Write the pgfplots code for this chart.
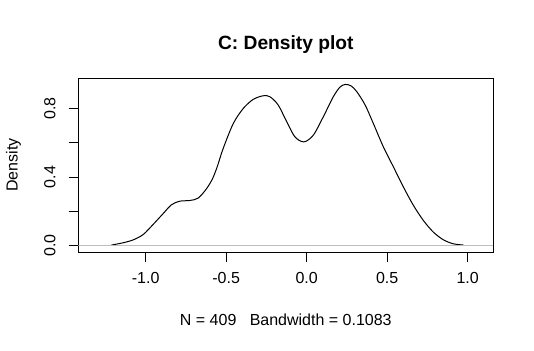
\documentclass[border=0pt]{standalone}
\usepackage{fontspec}
\setmainfont{Liberation Sans}
\usepackage{pgfplots}
\pgfplotsset{compat=1.18}
\definecolor{rgray}{HTML}{BEBEBE}
\begin{document}
\begin{tikzpicture}
\useasboundingbox (0,0) rectangle (400.5pt,262.5pt);
\begin{axis}[
  at={(58.725pt,73.5pt)}, anchor=south west,
  width=311.25pt, height=130.5pt, scale only axis,
  xmin=-1.4186, xmax=1.159, ymin=-0.0376, ymax=0.9776,
  axis line style={line width=0.75pt},
  tick style={black, line width=0.75pt},
  tick align=outside, major tick length=7.2pt,
  xtick pos=left, ytick pos=left,
  xtick={-1,-0.5,0,0.5,1}, xticklabels={-1.0,-0.5,0.0,0.5,1.0},
  ytick={0,0.2,0.4,0.6,0.8}, yticklabels={0.0,,0.4,,0.8},
  xticklabel style={anchor=center, font=\fontsize{12}{14}\selectfont},
  yticklabel style={anchor=center, rotate=90, font=\fontsize{12}{14}\selectfont},
  xticklabel shift=12.5pt, yticklabel shift=14.2pt,
  every axis title shift=0pt,
  title={C: Density plot},
  title style={at={(axis description cs:0.5,1.165)}, anchor=base, yshift=0pt, font=\bfseries\fontsize{14.4}{17}\selectfont},
  xlabel={N = 409\ \ \ Bandwidth = 0.1083},
  xlabel style={at={(axis description cs:0.5,-0.425)}, anchor=base, font=\fontsize{12}{14}\selectfont},
  ylabel={Density},
  ylabel style={at={(axis description cs:-0.1459,0.5)}, anchor=base, font=\fontsize{12}{14}\selectfont},
  clip=true,
]
\addplot[black, line width=0.75pt, smooth] coordinates {
(-1.213,0.003) (-1.141,0.016) (-1.078,0.033)
(-1.016,0.064) (-0.954,0.123) (-0.892,0.186) (-0.840,0.238) (-0.788,0.259)
(-0.726,0.263) (-0.674,0.277) (-0.622,0.332) (-0.585,0.390) (-0.555,0.462)
(-0.519,0.566) (-0.456,0.712) (-0.394,0.800) (-0.332,0.853) (-0.270,0.874)
(-0.228,0.868) (-0.177,0.820) (-0.124,0.722) (-0.073,0.634) (-0.017,0.605)
(0.041,0.644) (0.103,0.751) (0.165,0.868) (0.207,0.925) (0.240,0.940)
(0.275,0.932) (0.311,0.898) (0.363,0.820) (0.414,0.712) (0.476,0.576)
(0.539,0.458) (0.601,0.341) (0.663,0.234) (0.725,0.146) (0.787,0.078)
(0.850,0.033) (0.912,0.010) (0.974,0.003)
};
\addplot[rgray, line width=0.75pt] coordinates {(-1.4186,0) (1.159,0)};
\end{axis}
\end{tikzpicture}
\end{document}
